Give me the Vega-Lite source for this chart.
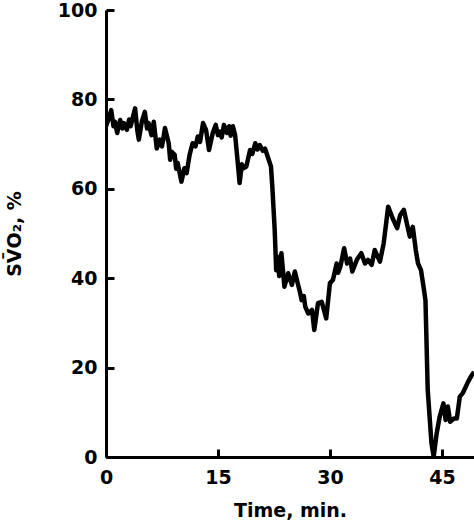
{
  "$schema": "https://vega.github.io/schema/vega-lite/v6.json",
  "width": 368,
  "height": 447,
  "autosize": "none",
  "padding": {"left": 106, "top": 10, "right": 0, "bottom": 67},
  "background": "white",
  "config": {
    "view": {"stroke": null},
    "axis": {
      "grid": false,
      "domainColor": "black",
      "domainWidth": 3,
      "tickColor": "black",
      "tickWidth": 3,
      "tickSize": 8,
      "labelFont": "DejaVu Sans",
      "labelFontWeight": "bold",
      "labelFontSize": 19,
      "labelColor": "black",
      "titleFont": "DejaVu Sans",
      "titleFontWeight": "bold",
      "titleFontSize": 19,
      "titleColor": "black"
    }
  },
  "data": {
    "values": [
      {"t": 0, "v": 74}, {"t": 0.3, "v": 75.4}, {"t": 0.7, "v": 77.6}, {"t": 1.0, "v": 74},
      {"t": 1.2, "v": 75}, {"t": 1.5, "v": 72.5}, {"t": 1.9, "v": 75.4}, {"t": 2.2, "v": 73.5},
      {"t": 2.4, "v": 74.7}, {"t": 2.8, "v": 73.2}, {"t": 3.1, "v": 75.5}, {"t": 3.3, "v": 74},
      {"t": 3.9, "v": 78}, {"t": 4.2, "v": 73}, {"t": 4.4, "v": 71}, {"t": 4.8, "v": 75},
      {"t": 5.2, "v": 77.2}, {"t": 5.5, "v": 73.5}, {"t": 5.7, "v": 74.7}, {"t": 6.1, "v": 72},
      {"t": 6.4, "v": 75}, {"t": 6.8, "v": 69}, {"t": 7.2, "v": 71}, {"t": 7.5, "v": 69.5},
      {"t": 7.9, "v": 73.6}, {"t": 8.4, "v": 70.2}, {"t": 8.6, "v": 66.5}, {"t": 8.8, "v": 68.3},
      {"t": 9.2, "v": 67.6}, {"t": 9.4, "v": 64.5}, {"t": 9.6, "v": 65.8}, {"t": 10.1, "v": 61.6},
      {"t": 10.5, "v": 64.6}, {"t": 10.8, "v": 63.5}, {"t": 11.2, "v": 67.6}, {"t": 11.6, "v": 70.2},
      {"t": 12.0, "v": 69.5}, {"t": 12.3, "v": 71.7}, {"t": 12.6, "v": 70.5}, {"t": 13.0, "v": 74.7},
      {"t": 13.4, "v": 73.2}, {"t": 13.8, "v": 68.7}, {"t": 14.3, "v": 72.5}, {"t": 14.7, "v": 74.3},
      {"t": 15.0, "v": 72}, {"t": 15.2, "v": 72.8}, {"t": 15.5, "v": 71.5}, {"t": 15.8, "v": 74.3},
      {"t": 16.2, "v": 72.5}, {"t": 16.5, "v": 74}, {"t": 16.7, "v": 71.9}, {"t": 17.0, "v": 74},
      {"t": 17.3, "v": 72}, {"t": 17.7, "v": 65}, {"t": 17.9, "v": 61.3}, {"t": 18.2, "v": 65.5},
      {"t": 18.4, "v": 64.6}, {"t": 18.8, "v": 65}, {"t": 19.3, "v": 68.7}, {"t": 19.6, "v": 67.8},
      {"t": 20.0, "v": 70.2}, {"t": 20.3, "v": 68.8}, {"t": 20.6, "v": 69.8}, {"t": 21.0, "v": 68.5},
      {"t": 21.3, "v": 69}, {"t": 21.7, "v": 67}, {"t": 22.1, "v": 65},
      {"t": 22.3, "v": 60}, {"t": 22.6, "v": 50.8}, {"t": 22.8, "v": 41.8}, {"t": 23.0, "v": 44.8},
      {"t": 23.2, "v": 40.5}, {"t": 23.5, "v": 45.6}, {"t": 23.9, "v": 38.1}, {"t": 24.4, "v": 41.1},
      {"t": 24.9, "v": 38.5}, {"t": 25.3, "v": 41.5}, {"t": 25.8, "v": 38.1}, {"t": 26.0, "v": 36.8},
      {"t": 26.2, "v": 35.1}, {"t": 26.5, "v": 36}, {"t": 26.7, "v": 33.6}, {"t": 27.1, "v": 32.1},
      {"t": 27.6, "v": 32.9}, {"t": 27.9, "v": 28.4}, {"t": 28.4, "v": 34.4}, {"t": 28.9, "v": 34.7},
      {"t": 29.5, "v": 31}, {"t": 30.0, "v": 38.9}, {"t": 30.4, "v": 39.6}, {"t": 30.9, "v": 43.3},
      {"t": 31.1, "v": 41.2}, {"t": 31.4, "v": 42.6}, {"t": 31.9, "v": 46.7}, {"t": 32.3, "v": 43.3},
      {"t": 32.7, "v": 44.4}, {"t": 33.0, "v": 41.5}, {"t": 33.6, "v": 44.1}, {"t": 34.2, "v": 45.6},
      {"t": 34.7, "v": 43.3}, {"t": 35.1, "v": 44.1}, {"t": 35.6, "v": 43}, {"t": 36.0, "v": 46.3},
      {"t": 36.7, "v": 43.7}, {"t": 37.2, "v": 47.8}, {"t": 37.8, "v": 56}, {"t": 38.4, "v": 53.4},
      {"t": 39.0, "v": 51.2}, {"t": 39.4, "v": 54.1}, {"t": 39.9, "v": 55.3}, {"t": 40.3, "v": 52.3},
      {"t": 40.7, "v": 49.3}, {"t": 41.1, "v": 51.5}, {"t": 41.5, "v": 46.3}, {"t": 41.8, "v": 43.3},
      {"t": 42.2, "v": 41.8}, {"t": 42.6, "v": 37.4}, {"t": 42.8, "v": 35}, {"t": 43.1, "v": 15},
      {"t": 43.6, "v": 3.1}, {"t": 43.9, "v": 0.1}, {"t": 44.3, "v": 5.3}, {"t": 44.7, "v": 9},
      {"t": 45.2, "v": 12}, {"t": 45.5, "v": 8.3}, {"t": 45.8, "v": 11.3}, {"t": 46.1, "v": 7.9},
      {"t": 46.6, "v": 8.6}, {"t": 47.0, "v": 8.6}, {"t": 47.4, "v": 13.5}, {"t": 47.8, "v": 14.3},
      {"t": 48.2, "v": 15.7}, {"t": 48.5, "v": 16.8}, {"t": 49.0, "v": 18.3}, {"t": 49.3, "v": 19}
    ]
  },
  "resolve": {"axis": {"x": "independent", "y": "independent"}},
  "layer": [
    {
      "mark": {"type": "line", "color": "black", "strokeWidth": 4.5, "strokeJoin": "round", "clip": true},
      "encoding": {
        "x": {
          "field": "t",
          "type": "quantitative",
          "scale": {"domain": [0, 49.3], "nice": false},
          "axis": {"values": [0, 15, 30, 45], "ticks": false, "title": "Time, min.", "labelPadding": 11, "titlePadding": 14, "labelFlush": false}
        },
        "y": {
          "field": "v",
          "type": "quantitative",
          "scale": {"domain": [0, 100], "nice": false},
          "axis": {"values": [0, 20, 40, 60, 80, 100], "ticks": false, "title": "SV̄O₂, %", "labelPadding": 9, "titlePadding": 33, "labelFlush": false}
        }
      }
    },
    {
      "mark": {"type": "line", "opacity": 0},
      "encoding": {
        "x": {
          "field": "t",
          "type": "quantitative",
          "scale": {"domain": [0, 49.3], "nice": false},
          "axis": {"orient": "top", "offset": -447, "values": [0, 15, 30, 45], "labels": false, "domain": false, "title": null}
        },
        "y": {
          "field": "v",
          "type": "quantitative",
          "scale": {"domain": [0, 100], "nice": false},
          "axis": {"orient": "right", "offset": -368, "values": [0, 20, 40, 60, 80, 100], "labels": false, "domain": false, "title": null}
        }
      }
    }
  ]
}
